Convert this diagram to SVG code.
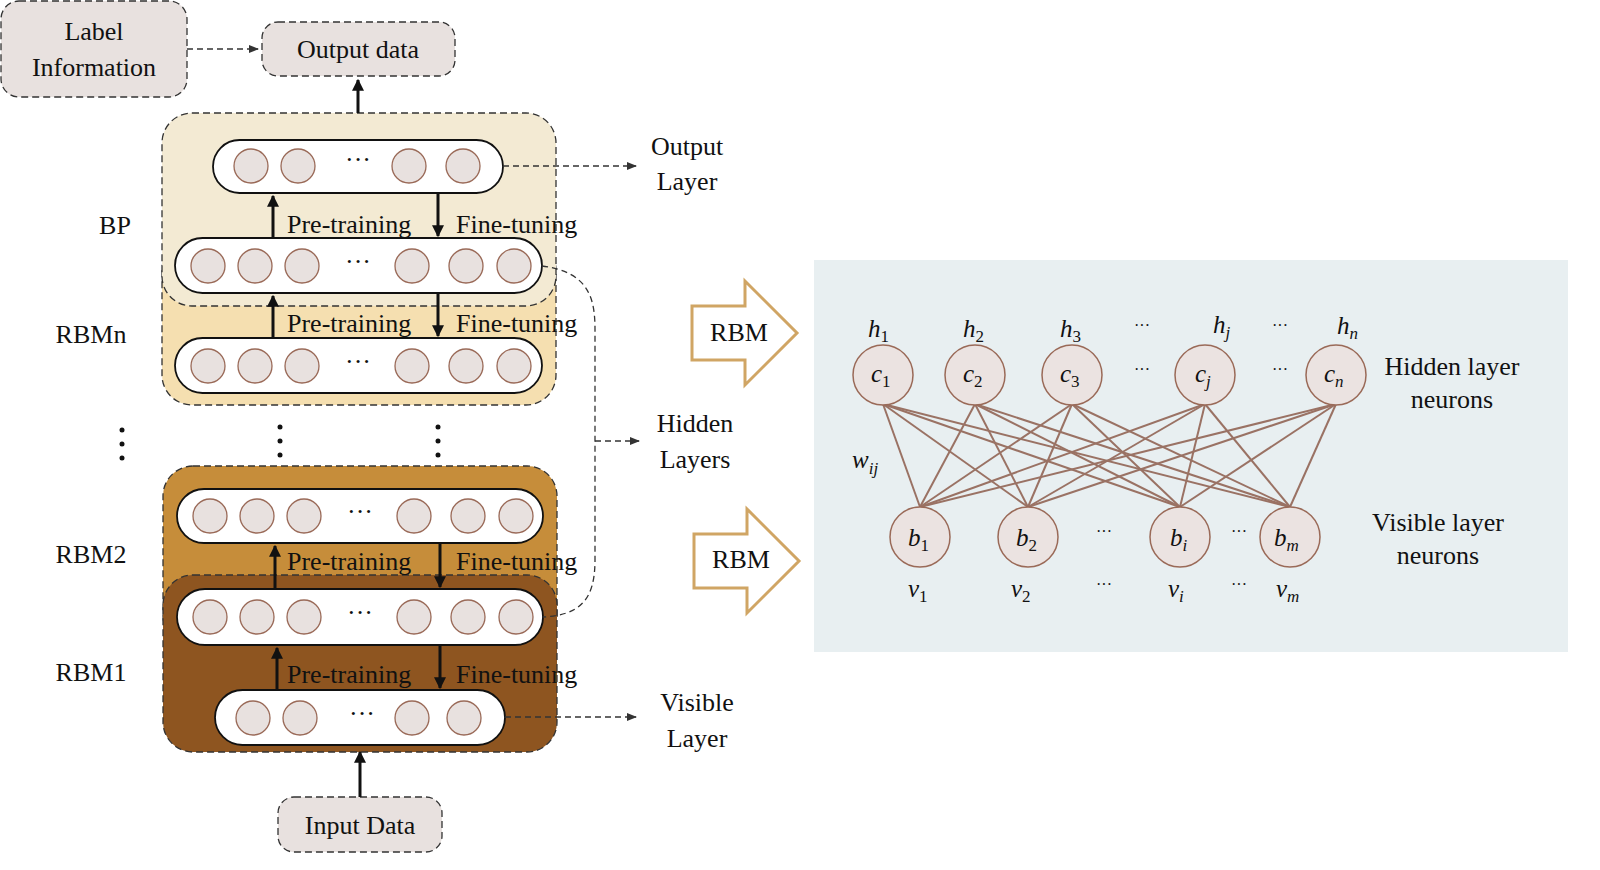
<svg xmlns="http://www.w3.org/2000/svg" width="1600" height="870" viewBox="0 0 1600 870">
<defs>
<style>
text{font-family:"Liberation Serif","DejaVu Serif",serif;fill:#111}
.t{font-size:26px}
.m{font-size:25px;font-style:italic}
.s{font-size:16px}
.box{stroke:#333;stroke-width:1.3;stroke-dasharray:7 4}
.pill{fill:#fff;stroke:#111;stroke-width:1.8}
.n{fill:#e8e1df;stroke:#9a6a58;stroke-width:1.3}
.rn{fill:#ebe3e1;stroke:#9a6a58;stroke-width:1.5}
.a{stroke:#111;stroke-width:3;marker-end:url(#ab)}
.d{stroke:#333;stroke-width:1.3;stroke-dasharray:6 4;fill:none}
.w{stroke:#9a7264;stroke-width:2}
.big{fill:#fff;stroke:#d0a564;stroke-width:3}
</style>
<marker id="ab" viewBox="0 0 10 10" refX="9" refY="5" markerWidth="4" markerHeight="4" orient="auto"><path d="M0,0L10,5L0,10z" fill="#111"/></marker>
<marker id="ad" viewBox="0 0 10 10" refX="9" refY="5" markerWidth="8" markerHeight="8" orient="auto"><path d="M0,1L10,5L0,9z" fill="#333"/></marker>
</defs>
<rect x="814" y="260" width="754" height="392" fill="#e8eff1"/>
<g id="label-info"><rect x="1" y="1" width="186" height="96" rx="18" fill="#e8e1df" class="box"/><text class="t" x="94" y="40" text-anchor="middle">Label</text><text class="t" x="94" y="76" text-anchor="middle">Information</text></g>
<g id="output-data"><rect x="262" y="22" width="193" height="54" rx="16" fill="#e8e1df" class="box"/><text class="t" x="358" y="58" text-anchor="middle">Output data</text></g>
<g id="input-data"><rect x="278" y="797" width="164" height="55" rx="16" fill="#e8e1df" class="box"/><text class="t" x="360" y="834" text-anchor="middle">Input Data</text></g>
<g id="rbmn-box"><rect x="162" y="240" width="394" height="165" rx="30" fill="#f5dfb0" class="box"/></g>
<g id="bp-box"><rect x="162" y="113" width="394" height="193" rx="30" fill="#f3ead3" class="box"/></g>
<g id="rbm2-box"><rect x="163" y="466" width="394" height="180" rx="30" fill="#c68d3a" class="box"/></g>
<g id="rbm1-box"><rect x="163" y="575" width="394" height="177" rx="30" fill="#8e5520" class="box"/></g>
<g id="layer-out"><rect class="pill" x="213" y="140" width="290" height="53" rx="26.5"/><circle class="n" cx="251" cy="166" r="17"/><circle class="n" cx="298" cy="166" r="17"/><circle class="n" cx="409" cy="166" r="17"/><circle class="n" cx="463" cy="166" r="17"/><text class="t" x="358" y="168" text-anchor="middle">···</text></g>
<g id="layer-hn"><rect class="pill" x="175" y="238" width="367" height="55" rx="27.5"/><circle class="n" cx="208" cy="266" r="17"/><circle class="n" cx="255" cy="266" r="17"/><circle class="n" cx="302" cy="266" r="17"/><circle class="n" cx="412" cy="266" r="17"/><circle class="n" cx="466" cy="266" r="17"/><circle class="n" cx="514" cy="266" r="17"/><text class="t" x="358" y="270" text-anchor="middle">···</text></g>
<g id="layer-rbmn"><rect class="pill" x="175" y="338" width="367" height="55" rx="27.5"/><circle class="n" cx="208" cy="366" r="17"/><circle class="n" cx="255" cy="366" r="17"/><circle class="n" cx="302" cy="366" r="17"/><circle class="n" cx="412" cy="366" r="17"/><circle class="n" cx="466" cy="366" r="17"/><circle class="n" cx="514" cy="366" r="17"/><text class="t" x="358" y="370" text-anchor="middle">···</text></g>
<g id="layer-rbm2"><rect class="pill" x="177" y="489" width="366" height="54" rx="27"/><circle class="n" cx="210" cy="516" r="17"/><circle class="n" cx="257" cy="516" r="17"/><circle class="n" cx="304" cy="516" r="17"/><circle class="n" cx="414" cy="516" r="17"/><circle class="n" cx="468" cy="516" r="17"/><circle class="n" cx="516" cy="516" r="17"/><text class="t" x="360" y="520" text-anchor="middle">···</text></g>
<g id="layer-rbm1"><rect class="pill" x="177" y="589" width="366" height="56" rx="28"/><circle class="n" cx="210" cy="617" r="17"/><circle class="n" cx="257" cy="617" r="17"/><circle class="n" cx="304" cy="617" r="17"/><circle class="n" cx="414" cy="617" r="17"/><circle class="n" cx="468" cy="617" r="17"/><circle class="n" cx="516" cy="617" r="17"/><text class="t" x="360" y="621" text-anchor="middle">···</text></g>
<g id="layer-vis"><rect class="pill" x="215" y="690" width="290" height="55" rx="27.5"/><circle class="n" cx="253" cy="718" r="17"/><circle class="n" cx="300" cy="718" r="17"/><circle class="n" cx="412" cy="718" r="17"/><circle class="n" cx="464" cy="718" r="17"/><text class="t" x="362" y="722" text-anchor="middle">···</text></g>
<g id="connectors">
<line class="a" x1="358" y1="113" x2="358" y2="80"/>
<line class="a" x1="360" y1="797" x2="360" y2="752"/>
<line class="a" x1="273" y1="238" x2="273" y2="196"/>
<line class="a" x1="438" y1="193" x2="438" y2="236"/>
<line class="a" x1="273" y1="338" x2="273" y2="296"/>
<line class="a" x1="438" y1="293" x2="438" y2="336"/>
<line class="a" x1="275" y1="589" x2="275" y2="546"/>
<line class="a" x1="440" y1="543" x2="440" y2="587"/>
<line class="a" x1="277" y1="690" x2="277" y2="648"/>
<line class="a" x1="440" y1="645" x2="440" y2="688"/>
<path class="d" d="M187,49H258" marker-end="url(#ad)"/>
<path class="d" d="M503,166H636" marker-end="url(#ad)"/>
<path class="d" d="M505,717H636" marker-end="url(#ad)"/>
<path class="d" d="M542,266C590,272 595,300 595,330V560C595,600 580,615 543,617"/>
<path class="d" d="M595,441H639" marker-end="url(#ad)"/>
</g>
<g id="stack-labels">
<text class="t" x="287" y="233">Pre-training</text><text class="t" x="456" y="233">Fine-tuning</text>
<text class="t" x="287" y="332">Pre-training</text><text class="t" x="456" y="332">Fine-tuning</text>
<text class="t" x="287" y="570">Pre-training</text><text class="t" x="456" y="570">Fine-tuning</text>
<text class="t" x="287" y="683">Pre-training</text><text class="t" x="456" y="683">Fine-tuning</text>
<text class="t" x="115" y="234" text-anchor="middle">BP</text>
<text class="t" x="91" y="343" text-anchor="middle">RBMn</text>
<text class="t" x="91" y="563" text-anchor="middle">RBM2</text>
<text class="t" x="91" y="681" text-anchor="middle">RBM1</text>
<text class="t" x="687" y="155" text-anchor="middle">Output</text><text class="t" x="687" y="190" text-anchor="middle">Layer</text>
<text class="t" x="695" y="432" text-anchor="middle">Hidden</text><text class="t" x="695" y="468" text-anchor="middle">Layers</text>
<text class="t" x="697" y="711" text-anchor="middle">Visible</text><text class="t" x="697" y="747" text-anchor="middle">Layer</text>
<g fill="#111"><circle cx="122" cy="430" r="2.5"/><circle cx="122" cy="444" r="2.5"/><circle cx="122" cy="458" r="2.5"/><circle cx="280" cy="427" r="2.5"/><circle cx="280" cy="441" r="2.5"/><circle cx="280" cy="455" r="2.5"/><circle cx="438" cy="427" r="2.5"/><circle cx="438" cy="441" r="2.5"/><circle cx="438" cy="455" r="2.5"/></g>
</g>
<g id="rbm-arrow-1"><path class="big" d="M692,306H745V281L797,333L745,385V360H692Z"/><text class="t" x="739" y="341" text-anchor="middle">RBM</text></g>
<g id="rbm-arrow-2"><path class="big" d="M694,534H747V509L799,561L747,613V588H694Z"/><text class="t" x="741" y="568" text-anchor="middle">RBM</text></g>
<g id="weights">
<g class="w">
<line x1="883" y1="404" x2="920" y2="507"/><line x1="883" y1="404" x2="1028" y2="507"/><line x1="883" y1="404" x2="1180" y2="507"/><line x1="883" y1="404" x2="1290" y2="507"/>
<line x1="975" y1="404" x2="920" y2="507"/><line x1="975" y1="404" x2="1028" y2="507"/><line x1="975" y1="404" x2="1180" y2="507"/><line x1="975" y1="404" x2="1290" y2="507"/>
<line x1="1072" y1="404" x2="920" y2="507"/><line x1="1072" y1="404" x2="1028" y2="507"/><line x1="1072" y1="404" x2="1180" y2="507"/><line x1="1072" y1="404" x2="1290" y2="507"/>
<line x1="1205" y1="404" x2="920" y2="507"/><line x1="1205" y1="404" x2="1028" y2="507"/><line x1="1205" y1="404" x2="1180" y2="507"/><line x1="1205" y1="404" x2="1290" y2="507"/>
<line x1="1336" y1="404" x2="920" y2="507"/><line x1="1336" y1="404" x2="1028" y2="507"/><line x1="1336" y1="404" x2="1180" y2="507"/><line x1="1336" y1="404" x2="1290" y2="507"/>
</g>
<text class="m" x="852" y="468">w<tspan font-size="17" dy="6">ij</tspan></text>
</g>
<g id="hidden-neurons">
<circle class="rn" cx="883" cy="375" r="30"/><text class="m" x="871" y="382">c<tspan font-size="17" font-style="normal" dy="5">1</tspan></text>
<circle class="rn" cx="975" cy="375" r="30"/><text class="m" x="963" y="382">c<tspan font-size="17" font-style="normal" dy="5">2</tspan></text>
<circle class="rn" cx="1072" cy="375" r="30"/><text class="m" x="1060" y="382">c<tspan font-size="17" font-style="normal" dy="5">3</tspan></text>
<circle class="rn" cx="1205" cy="375" r="30"/><text class="m" x="1195" y="382">c<tspan font-size="17" dy="5">j</tspan></text>
<circle class="rn" cx="1336" cy="375" r="30"/><text class="m" x="1324" y="382">c<tspan font-size="17" dy="5">n</tspan></text>
<text class="m" x="868" y="337">h<tspan font-size="17" font-style="normal" dy="5">1</tspan></text>
<text class="m" x="963" y="337">h<tspan font-size="17" font-style="normal" dy="5">2</tspan></text>
<text class="m" x="1060" y="337">h<tspan font-size="17" font-style="normal" dy="5">3</tspan></text>
<text class="m" x="1213" y="333">h<tspan font-size="17" dy="5">j</tspan></text>
<text class="m" x="1337" y="334">h<tspan font-size="17" dy="5">n</tspan></text>
<text class="s" x="1142" y="331" text-anchor="middle">···</text><text class="s" x="1280" y="331" text-anchor="middle">···</text>
<text class="s" x="1142" y="375" text-anchor="middle">···</text><text class="s" x="1280" y="375" text-anchor="middle">···</text>
<text class="t" x="1452" y="375" text-anchor="middle">Hidden layer</text><text class="t" x="1452" y="408" text-anchor="middle">neurons</text>
</g>
<g id="visible-neurons">
<circle class="rn" cx="920" cy="537" r="30"/><text class="m" x="908" y="546">b<tspan font-size="17" font-style="normal" dy="5">1</tspan></text>
<circle class="rn" cx="1028" cy="537" r="30"/><text class="m" x="1016" y="546">b<tspan font-size="17" font-style="normal" dy="5">2</tspan></text>
<circle class="rn" cx="1180" cy="537" r="30"/><text class="m" x="1170" y="546">b<tspan font-size="17" dy="5">i</tspan></text>
<circle class="rn" cx="1290" cy="537" r="30"/><text class="m" x="1274" y="546">b<tspan font-size="17" dy="5">m</tspan></text>
<text class="m" x="908" y="597">v<tspan font-size="17" font-style="normal" dy="5">1</tspan></text>
<text class="m" x="1011" y="597">v<tspan font-size="17" font-style="normal" dy="5">2</tspan></text>
<text class="m" x="1168" y="597">v<tspan font-size="17" dy="5">i</tspan></text>
<text class="m" x="1276" y="597">v<tspan font-size="17" dy="5">m</tspan></text>
<text class="s" x="1104" y="537" text-anchor="middle">···</text><text class="s" x="1239" y="537" text-anchor="middle">···</text>
<text class="s" x="1104" y="590" text-anchor="middle">···</text><text class="s" x="1239" y="590" text-anchor="middle">···</text>
<text class="t" x="1438" y="531" text-anchor="middle">Visible layer</text><text class="t" x="1438" y="564" text-anchor="middle">neurons</text>
</g>
</svg>
